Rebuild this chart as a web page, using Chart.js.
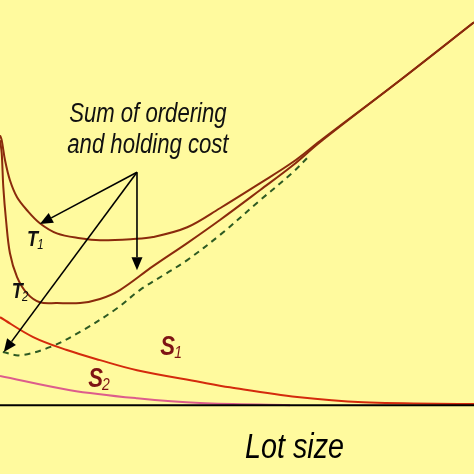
<!DOCTYPE html>
<html>
<head>
<meta charset="utf-8">
<script src="https://cdn.jsdelivr.net/npm/chart.js@4.4.1/dist/chart.umd.min.js"></script>
<style>
  html,body{margin:0;padding:0;background:#FFFA9E;}
  #wrap{width:474px;height:474px;}
</style>
</head>
<body>
<div id="wrap"><canvas id="lotChart" width="474" height="474"></canvas></div>
<script>
// lot size (x, 0..100) and cost (y)
const t1X = [0, 0.36, 1.05, 2.1, 3.6, 5.7, 8.4, 12.0, 16.9, 21.1, 28.1, 32.3, 39.5, 46.4, 54.9, 61.8, 67.5, 84.4, 100];
const t1Y = [66.6, 65.4, 60.5, 55.5, 51.3, 48.1, 44.9, 42.4, 41.2, 40.7, 41.0, 41.5, 43.9, 48.6, 54.8, 60.0, 65.2, 80.2, 94.5];

const t2X = [0, 0.36, 0.7, 1.27, 2.1, 3.6, 5.7, 8.4, 12.0, 16.9, 21.1, 25.3, 32.3, 39.5, 46.4, 54.9, 61.8, 67.5, 84.4, 100];
const t2Y = [65.4, 62.2, 53.8, 45.7, 37.5, 31.6, 27.6, 25.4, 25.2, 25.2, 26.2, 28.4, 34.3, 40.0, 45.7, 53.1, 59.2, 64.9, 80.2, 94.5];

const holdX = [0.6, 4.2, 10.5, 17.5, 24.7, 29.5, 35.2, 39.5, 46.4, 54.9, 61.8, 65.4];
const holdY = [13.1, 12.3, 14.3, 18.5, 23.9, 28.4, 32.6, 35.8, 42.0, 50.6, 57.5, 61.7];

const s1X = [0, 7.0, 14.1, 21.1, 28.9, 42.2, 48.5, 62.7, 76.6, 100];
const s1Y = [21.7, 16.8, 13.6, 11.1, 8.6, 5.7, 4.4, 2.0, 0.7, 0.25];

const s2X = [0, 14.8, 28.9, 42.2, 61.2];
const s2Y = [7.2, 3.7, 1.7, 0.5, 0];

const axisX = [0, 100];
const axisY = [0, 0];

// arrows: from the caption down to the curves
const arrowFrom = [28.9, 57.5];
const arrowTips = [[8.4, 44.7], [28.9, 33.3], [0.8, 13.1]];

// labels: text, sub, x, y, kind
const labels = [
  ['Sum of ordering', '', 31.2, 69.8, 'caption'],
  ['and holding cost', '', 31.2, 62.2, 'caption'],
  ['T', '1', 5.7, 39.2, 'curveT'],
  ['T', '2', 2.5, 26.4, 'curveT'],
  ['S', '1', 33.8, 12.3, 'curveS'],
  ['S', '2', 18.6, 4.4, 'curveS'],
  ['Lot size', '', 51.7, -13.1, 'axis']
];

const pts = (xs, ys) => xs.map((x, i) => ({x, y: ys[i]}));
const FAM = '"Liberation Sans", Arial, sans-serif';
const NARROW = 0.82; // squeeze the text like a narrow face

const annotate = {
  id: 'annotate',
  afterDatasetsDraw(chart){
    const {ctx, scales:{x, y}} = chart;
    ctx.save();
    // arrows
    ctx.strokeStyle = '#000';
    ctx.fillStyle = '#000';
    ctx.lineWidth = 1.6;
    const fx = x.getPixelForValue(arrowFrom[0]), fy = y.getPixelForValue(arrowFrom[1]);
    arrowTips.forEach(t => {
      const tx = x.getPixelForValue(t[0]), ty = y.getPixelForValue(t[1]);
      const a = Math.atan2(ty - fy, tx - fx);
      const len = 13, half = 5.5;
      const bx = tx - len*Math.cos(a), by = ty - len*Math.sin(a);
      ctx.beginPath();
      ctx.moveTo(fx, fy);
      ctx.lineTo(bx, by);
      ctx.stroke();
      ctx.beginPath();
      ctx.moveTo(tx, ty);
      ctx.lineTo(bx + half*Math.sin(a), by - half*Math.cos(a));
      ctx.lineTo(bx - half*Math.sin(a), by + half*Math.cos(a));
      ctx.closePath();
      ctx.fill();
    });
    // texts, squeezed horizontally
    ctx.textBaseline = 'alphabetic';
    ctx.scale(NARROW, 1);
    labels.forEach(([txt, sub, lx, ly, kind]) => {
      const px = x.getPixelForValue(lx) / NARROW, py = y.getPixelForValue(ly);
      if(kind === 'caption'){
        ctx.font = `italic 27px ${FAM}`;
        ctx.fillStyle = '#111';
        ctx.textAlign = 'center';
        ctx.fillText(txt, px, py);
      }else if(kind === 'axis'){
        ctx.font = `italic 35px ${FAM}`;
        ctx.fillStyle = '#000';
        ctx.textAlign = 'left';
        ctx.fillText(txt, px, py);
      }else{
        const big = kind === 'curveT' ? 22 : 27;
        ctx.fillStyle = kind === 'curveT' ? '#111' : '#7E1414';
        ctx.textAlign = 'left';
        ctx.font = `italic bold ${big}px ${FAM}`;
        ctx.fillText(txt, px, py);
        const w = ctx.measureText(txt).width;
        ctx.font = `italic ${Math.round(big*0.64)}px ${FAM}`;
        ctx.fillText(sub, px + w - 1, py + 3);
      }
    });
    ctx.restore();
  }
};

const line = (data, color, extra) => Object.assign({
  data, borderColor: color, borderWidth: 2, pointRadius: 0,
  tension: 0.35, fill: false
}, extra || {});

new Chart(document.getElementById('lotChart'), {
  type: 'line',
  data: {
    datasets: [
      line(pts(axisX, axisY), '#000', {tension: 0}),
      line(pts(s2X, s2Y), '#DD5C8C'),
      line(pts(s1X, s1Y), '#D42A0C'),
      line(pts(holdX, holdY), '#2E5A22', {borderDash: [6, 5]}),
      line(pts(t2X, t2Y), '#8A2A0C'),
      line(pts(t1X, t1Y), '#8A2A0C')
    ]
  },
  options: {
    responsive: false,
    animation: false,
    layout: {padding: 0},
    plugins: {legend: {display: false}, tooltip: {enabled: false}},
    scales: {
      x: {type: 'linear', min: 0, max: 100, display: false},
      y: {type: 'linear', min: -17, max: 100, display: false}
    }
  },
  plugins: [annotate]
});
</script>
</body>
</html>
